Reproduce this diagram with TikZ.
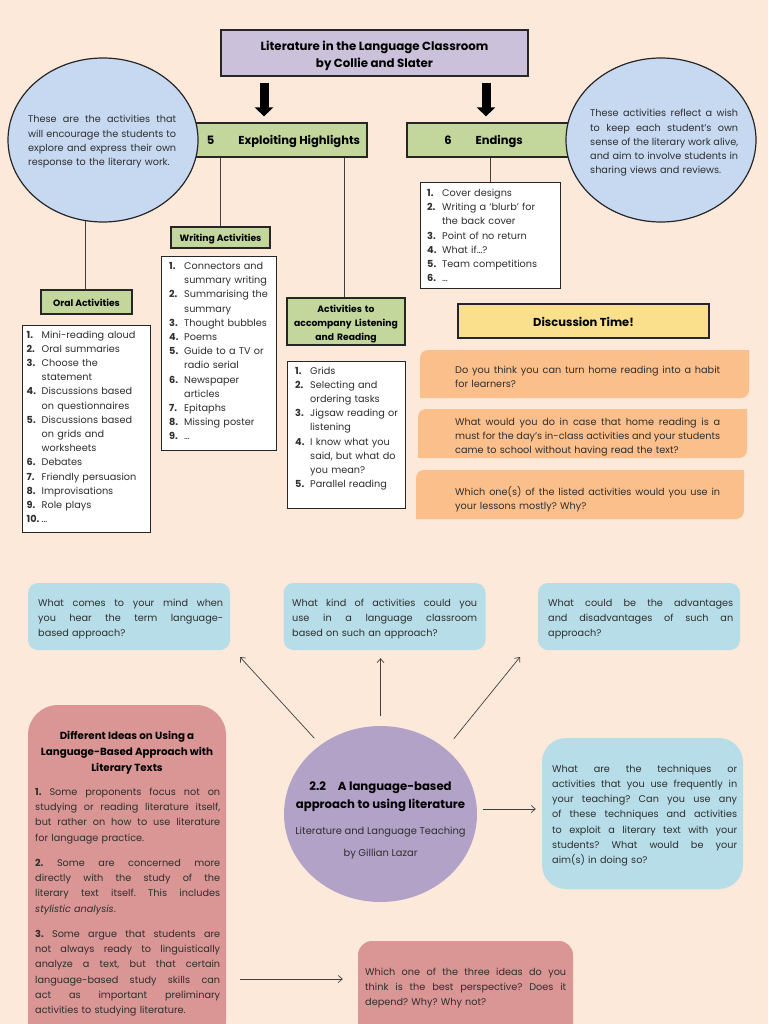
\documentclass[tikz,border=0pt]{standalone}
\usepackage{fontspec}
\setmainfont{Poppins}
\usetikzlibrary{arrows.meta,shapes.geometric}
\definecolor{pagecol}{HTML}{FDE9D9}
\definecolor{titlecol}{HTML}{CCC1DA}
\definecolor{greencol}{HTML}{C3D69B}
\definecolor{skycol}{HTML}{C6D9F1}
\definecolor{yellowcol}{HTML}{FAE08C}
\definecolor{orangecol}{HTML}{FBBF8C}
\definecolor{aquacol}{HTML}{B7DEE8}
\definecolor{redcol}{HTML}{D99694}
\definecolor{plumcol}{HTML}{B3A2C7}
\definecolor{inkcol}{HTML}{2E2E2E}
\newcommand{\jl}[1]{\makebox[\hsize][s]{\spaceskip=.27em plus 3em minus .12em\xspaceskip=\spaceskip #1}\par}
\newcommand{\numl}[2]{\makebox[\listgap][l]{\textbf{#1}}#2\par}
\newcommand{\lowstrut}[1]{\rule{0pt}{#1pt}}
\newlength{\listgap}
\setlength{\listgap}{15pt}
\newcommand{\diagshape}[4]{\fill[orangecol] (#1,#4) -- (#1,#2+8) [rounded corners=8pt] -- (#1,#2) [sharp corners] -- (#3,#2) -- (#3,#4-8) [rounded corners=8pt] -- (#3,#4) [sharp corners] -- cycle;}
\begin{document}
\frenchspacing
\begin{tikzpicture}[x=1pt,y=-1pt,
  boxed/.style = {draw=black!85, line width=1.2pt, inner sep=0pt},
  headbox/.style = {boxed, fill=greencol, font=\fontsize{9.2}{14}\selectfont\bfseries, align=center},
  bighead/.style = {headbox, minimum height=34pt, font=\fontsize{11.5}{15}\selectfont\bfseries},
  listbox/.style = {draw=black!85, line width=0.8pt, fill=white, inner sep=0pt},
  bubble/.style = {ellipse, boxed, fill=skycol, minimum width=190pt, minimum height=164pt},
  para/.style = {anchor=base west, inner sep=0pt, text=inkcol, font=\fontsize{9.7}{14.2}\selectfont},
  aqua/.style = {fill=aquacol, rounded corners=10pt, inner sep=0pt},
  thinline/.style = {draw=black!75, line width=0.7pt},
  thinarrow/.style = {thinline, -{Straight Barb[length=4pt,width=7pt]}},
  blockarrow/.style = {line width=9pt, -{Triangle[length=9pt,width=18pt]}}]
\clip (0,0) rectangle (768,1024);
\fill[pagecol] (0,0) rectangle (768,1024);

\node[boxed, fill=titlecol, minimum width=307pt, minimum height=46pt, align=center, font=\fontsize{11.8}{17}\selectfont\bfseries] (title) at (374.5,53) {\lowstrut{15.5}Literature in the Language Classroom\\by Collie and Slater};
\node[bighead, minimum width=177pt] (exploit) at (278.5,140) {\lowstrut{12.5}\hspace*{10pt}5\hspace{24pt}Exploiting Highlights};
\node[bighead, minimum width=163pt] (endings) at (488.5,140) {\lowstrut{12.5}6\hspace{24pt}Endings\hspace*{10pt}};
\coordinate (arrowleft) at (264,83);
\coordinate (arrowright) at (486,83);
\draw[blockarrow, shorten >=6pt] (arrowleft) -- (arrowleft |- exploit.north);
\draw[blockarrow, shorten >=6pt] (arrowright) -- (arrowright |- endings.north);

\node[bubble] (leftbubble) at (103,140) {};
\node[bubble] (rightbubble) at (661,140) {};
\node[para, text width=148pt] (lefttext) at (28,123) {\jl{These are the activities that}\jl{will encourage the students to}\jl{explore and express their own}response to the literary work.};
\node[para, text width=148pt] (righttext) at (590,117) {\jl{These activities reflect a wish}\jl{to keep each student’s own}\jl{sense of the literary work alive,}\jl{and aim to involve students in}sharing views and reviews.};

% activity headings
\node[headbox, minimum width=91pt, minimum height=24pt] (oral) at (86.5,302) {\lowstrut{8.7}Oral Activities};
\node[headbox, minimum width=99pt, minimum height=21pt] (writing) at (220.5,237.5) {\lowstrut{9.7}Writing Activities};
\node[headbox, minimum width=118pt, minimum height=47pt, text width=116pt] (listening) at (346,321.5) {\lowstrut{11.7}Activities to\\accompany Listening\\and Reading};
\draw[thinline] (85,0 |- oral.north) -- (85,0 |- leftbubble.257);
\draw[thinline] (writing.north) -- (writing.north |- exploit.south);
\draw[thinline] (344,0 |- listening.north) -- (344,0 |- exploit.south);

% lists
\node[listbox, minimum width=128pt, minimum height=207pt] (orallist) at (86,428.5) {};
\node[para, text width=120pt] (oraltext) at (26.5,338) {\numl{1.}{Mini-reading aloud}\numl{2.}{Oral summaries}\numl{3.}{Choose the}\numl{}{statement}\numl{4.}{Discussions based}\numl{}{on questionnaires}\numl{5.}{Discussions based}\numl{}{on grids and}\numl{}{worksheets}\numl{6.}{Debates}\numl{7.}{Friendly persuasion}\numl{8.}{Improvisations}\numl{9.}{Role plays}\numl{10.}{…}};
\node[listbox, minimum width=115pt, minimum height=194pt] (writinglist) at (218.5,353) {};
\node[para, text width=108pt] (writingtext) at (169,269.5) {\numl{1.}{Connectors and}\numl{}{summary writing}\numl{2.}{Summarising the}\numl{}{summary}\numl{3.}{Thought bubbles}\numl{4.}{Poems}\numl{5.}{Guide to a TV or}\numl{}{radio serial}\numl{6.}{Newspaper}\numl{}{articles}\numl{7.}{Epitaphs}\numl{8.}{Missing poster}\numl{9.}{…}};
\node[listbox, minimum width=118pt, minimum height=147pt] (listeninglist) at (346,434.5) {};
\node[para, text width=110pt] (listeningtext) at (295,374) {\numl{1.}{Grids}\numl{2.}{Selecting and}\numl{}{ordering tasks}\numl{3.}{Jigsaw reading or}\numl{}{listening}\numl{4.}{I know what you}\numl{}{said, but what do}\numl{}{you mean?}\numl{5.}{Parallel reading}};
\node[listbox, minimum width=140pt, minimum height=106pt] (endinglist) at (490,235) {};
\node[para, text width=130pt] (endingtext) at (427,196.5) {\numl{1.}{Cover designs}\numl{2.}{Writing a ‘blurb’ for}\numl{}{the back cover}\numl{3.}{Point of no return}\numl{4.}{What if…?}\numl{5.}{Team competitions}\numl{6.}{…}};
\draw[thinline] (endings.south -| endinglist.north) -- (endinglist.north);

% discussion time
\node[boxed, fill=yellowcol, minimum width=251pt, minimum height=34pt, font=\fontsize{11.5}{15}\selectfont\bfseries] (discussion) at (583.5,321) {\lowstrut{10.5}Discussion Time!};
\diagshape{420}{350}{749}{398}
\diagshape{418}{409}{747}{458}
\diagshape{416}{470}{744}{519}
\node[para, text width=265pt] (askhome) at (455,373) {\jl{Do you think you can turn home reading into a habit}for learners?};
\node[para, text width=265pt] (askmust) at (455,425) {\jl{What would you do in case that home reading is a}\jl{must for the day’s in-class activities and your students}came to school without having read the text?};
\node[para, text width=265pt] (asklist) at (455,495) {\jl{Which one(s) of the listed activities would you use in}your lessons mostly? Why?};

% language based part
\node[aqua, minimum width=202pt, minimum height=67pt] (askmind) at (129,616.5) {};
\node[aqua, minimum width=202pt, minimum height=67pt] (askkind) at (384.5,616.5) {};
\node[aqua, minimum width=202pt, minimum height=67pt] (askgood) at (639,616.5) {};
\node[para, text width=185pt, font=\fontsize{9.7}{15.2}\selectfont] (mindtext) at (38,606.5) {\jl{What comes to your mind when}\jl{you hear the term language-}based approach?};
\node[para, text width=185pt, font=\fontsize{9.7}{15.2}\selectfont] (kindtext) at (292,606.5) {\jl{What kind of activities could you}\jl{use in a language classroom}based on such an approach?};
\node[para, text width=185pt, font=\fontsize{9.7}{15.2}\selectfont] (goodtext) at (548,606.5) {\jl{What could be the advantages}\jl{and disadvantages of such an}approach?};

\node[ellipse, fill=plumcol, inner sep=0pt, minimum width=193pt, minimum height=176pt] (centre) at (380.5,814) {};
\node[anchor=base, inner sep=0pt, align=center, font=\fontsize{11.7}{18}\selectfont\bfseries] (centrehead) at (380.5,808) {2.2\hspace{12pt}A language-based\\approach to using literature};
\node[anchor=base, inner sep=0pt, font=\fontsize{9.9}{14}\selectfont, text=inkcol] (centrebook) at (380.5,834) {Literature and Language Teaching};
\node[anchor=base, inner sep=0pt, font=\fontsize{9.9}{14}\selectfont, text=inkcol] (centreby) at (380.5,856.5) {by Gillian Lazar};

\node[aqua, rounded corners=24pt, minimum width=201pt, minimum height=151pt] (asktech) at (642.5,813.5) {};
\node[para, text width=185pt, font=\fontsize{9.7}{15.3}\selectfont] (techtext) at (552,772) {\jl{What are the techniques or}\jl{activities that you use frequently in}\jl{your teaching? Can you use any}\jl{of these techniques and activities}\jl{to exploit a literary text with your}\jl{students? What would be your}aim(s) in doing so?};

\node[fill=redcol, rounded corners=30pt, inner sep=0pt, minimum width=198pt, minimum height=345pt] (ideas) at (127,877.5) {};
\node[anchor=base, inner sep=0pt, align=center, font=\fontsize{10.3}{15.6}\selectfont\bfseries] (ideashead) at (127,771) {Different Ideas on Using a\\Language-Based Approach with\\Literary Texts};
\node[para, text width=185pt, font=\fontsize{9.7}{15.35}\selectfont] (ideastext) at (35,795) {\jl{\textbf{1.} Some proponents focus not on}\jl{studying or reading literature itself,}\jl{but rather on how to use literature}for language practice.\par\vspace{9.6pt}\jl{\textbf{2.} Some are concerned more}\jl{directly with the study of the}\jl{literary text itself. This includes}\textit{stylistic analysis}.\par\vspace{9.6pt}\jl{\textbf{3.} Some argue that students are}\jl{not always ready to linguistically}\jl{analyze a text, but that certain}\jl{language-based study skills can}\jl{act as important preliminary}activities to studying literature.};

\node[fill=redcol, rounded corners=14pt, inner sep=0pt, minimum width=215pt, minimum height=100pt] (askthree) at (465.5,991) {};
\node[para, text width=201pt, font=\fontsize{9.7}{15.3}\selectfont] (threetext) at (365,975) {\jl{Which one of the three ideas do you}\jl{think is the best perspective? Does it}depend? Why? Why not?};

% arrows round the circle
\coordinate (tipmind) at (240,657);
\coordinate (tipgood) at (520,657);
\coordinate (tailtech) at (483,809);
\coordinate (tailideas) at (226,979);
\draw[thinarrow, shorten <=9pt] (centre.131) -- (tipmind);
\draw[thinarrow, shorten <=10pt, shorten >=8pt] (centre.north) -- (centre.north |- askkind.south);
\draw[thinarrow, shorten <=13pt] (centre.45) -- (tipgood);
\draw[thinarrow, shorten >=6pt] (tailtech) -- (tailtech -| asktech.west);
\draw[thinarrow, shorten <=14pt, shorten >=15pt] (tailideas) -- (tailideas -| askthree.west);
\end{tikzpicture}
\end{document}
